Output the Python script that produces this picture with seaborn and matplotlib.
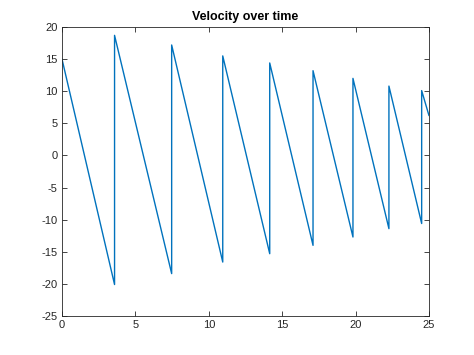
import matplotlib
matplotlib.use("Agg")
import matplotlib.pyplot as plt
import seaborn as sns
import pandas as pd

# Data (bouncing velocity)
time = [0, 3.58, 3.58, 7.47, 7.47, 10.95, 10.95, 14.15, 14.15, 17.1, 17.1,
        19.82, 19.82, 22.27, 22.27, 24.5, 24.5, 25]
velocity = [15, -20.1, 18.7, -18.4, 17.2, -16.6, 15.5, -15.3, 14.4, -14.0, 13.2,
            -12.7, 12.0, -11.4, 10.8, -10.6, 10.1, 6.2]
x_ticks = [0, 5, 10, 15, 20, 25]
y_ticks = [-25, -20, -15, -10, -5, 0, 5, 10, 15, 20]
title = "Velocity over time"

sns.set_style("ticks")
plt.rcParams['font.family'] = ['Liberation Sans', 'DejaVu Sans']
plt.rcParams['axes.unicode_minus'] = False

df = pd.DataFrame({"t": time, "v": velocity, "order": range(len(time))})

fig = plt.figure(figsize=(4.74, 3.55), dpi=100)
ax = fig.add_axes([62/474, 1-316/355, (429-62)/474, (316-27)/355])
sns.lineplot(data=df, x="t", y="v", sort=False, estimator=None,
             color="#0072BD", linewidth=1.0, ax=ax)

ax.set_xlim(0, 25)
ax.set_ylim(-25, 20)
ax.set_xticks(x_ticks)
ax.set_yticks(y_ticks)
ax.set_xlabel("")
ax.set_ylabel("")
axc = "#262626"
for s in ax.spines.values():
    s.set_visible(True)
    s.set_color(axc)
    s.set_linewidth(0.6)
ax.tick_params(direction="in", length=3.5, width=0.6, colors=axc,
               top=True, right=True, labelsize=8, pad=3)
for lab in ax.get_xticklabels() + ax.get_yticklabels():
    lab.set_color(axc)
ax.set_title(title, fontsize=9, fontweight="bold", color="black", pad=5)

fig.savefig("out.png", dpi=100, facecolor="white")
